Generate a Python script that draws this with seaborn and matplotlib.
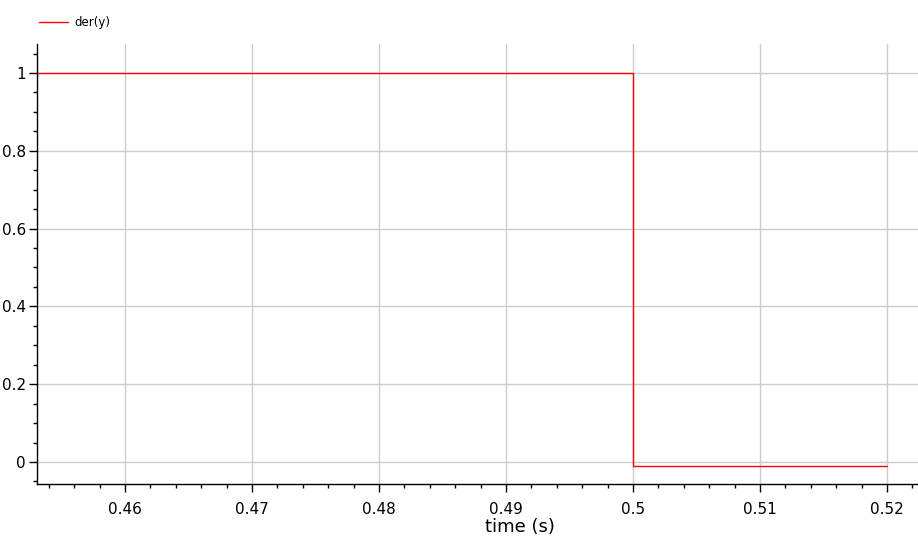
import pandas as pd
import seaborn as sns
import matplotlib.pyplot as plt
from matplotlib.ticker import MultipleLocator

# der(y) trace, step at t = 0.5
timeVals = [0.45, 0.5, 0.5, 0.52]
derYVals = [1.0, 1.0, -0.01, -0.01]
xTicks = [0.46, 0.47, 0.48, 0.49, 0.5, 0.51, 0.52]
xTickLabels = ['0.46', '0.47', '0.48', '0.49', '0.5', '0.51', '0.52']
yTicks = [0, 0.2, 0.4, 0.6, 0.8, 1]
yTickLabels = ['0', '0.2', '0.4', '0.6', '0.8', '1']

dfDer = pd.DataFrame({'time': timeVals, 'der(y)': derYVals})

sns.set_style("white")
plt.rcParams['font.family'] = ['DejaVu Sans']
plt.rcParams['text.color'] = 'black'
plt.rcParams['axes.labelcolor'] = 'black'
plt.rcParams['xtick.color'] = 'black'
plt.rcParams['ytick.color'] = 'black'

fig = plt.figure(figsize=(9.18, 5.45), dpi=100)
ax = fig.add_axes([0.0403, 0.1119, 0.9597, 0.8074])

ax.grid(True, color='#cccccc', linewidth=1)
ax.set_axisbelow(True)
sns.lineplot(data=dfDer, x='time', y='der(y)', sort=False, estimator=None,
             errorbar=None, color='#ff0000', linewidth=1, label='der(y)', ax=ax)

ax.set_xlim(0.45307, 0.52244)
ax.set_ylim(-0.0566, 1.0746)
ax.set_xticks(xTicks)
ax.set_xticklabels(xTickLabels, fontsize=11)
ax.set_yticks(yTicks)
ax.set_yticklabels(yTickLabels, fontsize=11)
ax.xaxis.set_minor_locator(MultipleLocator(0.002))
ax.yaxis.set_minor_locator(MultipleLocator(0.05))
ax.tick_params(which='major', direction='out', length=6, width=1, color='black',
               bottom=True, left=True)
ax.tick_params(which='minor', direction='out', length=3, width=1, color='black',
               bottom=True, left=True)
ax.tick_params(axis='x', which='major', pad=7)
ax.tick_params(axis='y', which='major', pad=2)

for side in ['top', 'right']:
    ax.spines[side].set_visible(False)
for side in ['left', 'bottom']:
    ax.spines[side].set_color('black')
    ax.spines[side].set_linewidth(1)

ax.set_xlabel('time (s)', fontsize=13)
ax.xaxis.set_label_coords(0.548, -0.078)
ax.set_ylabel('')

leg = ax.legend(loc='upper left', bbox_to_anchor=(0.0, 1.068), frameon=False,
                fontsize=8.5, handlelength=2.4, handletextpad=0.6,
                borderaxespad=0, borderpad=0.2)

fig.savefig('out.png', dpi=100)
